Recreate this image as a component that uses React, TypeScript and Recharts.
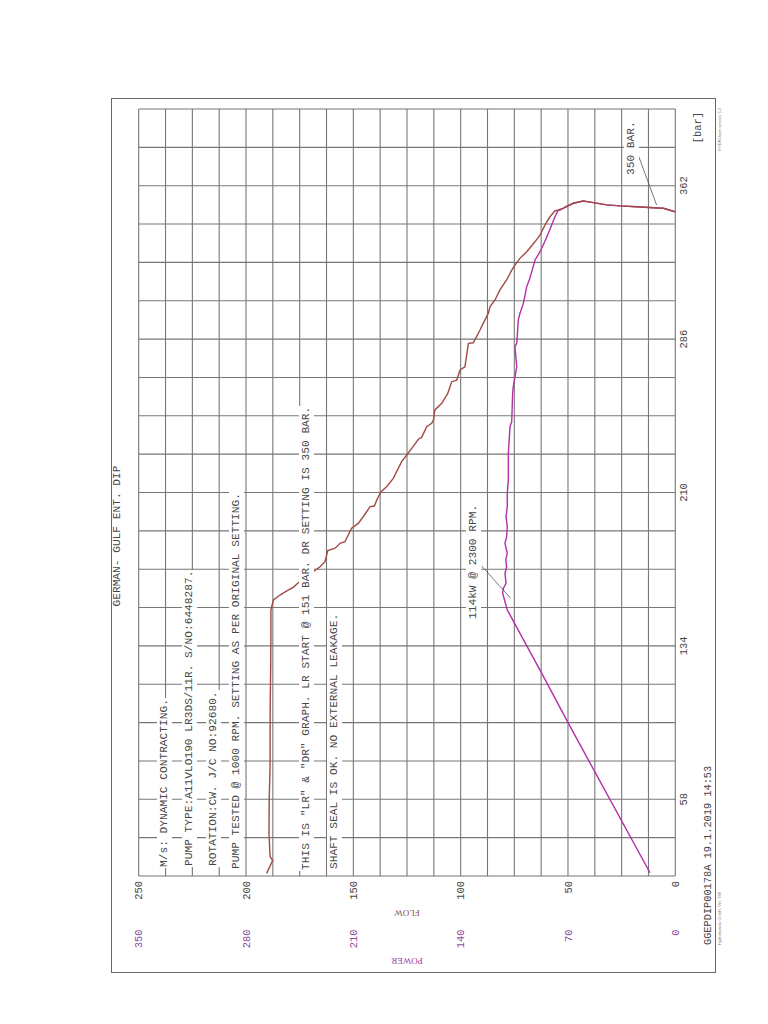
import React from "react";
import { LineChart, Line, XAxis, YAxis, CartesianGrid, ReferenceLine } from "recharts";

// pressure axis [bar]: grid every 19 bar, labels every 4th line
const PRESSURE_GRID = [20, 39, 58, 77, 96, 115, 134, 153, 172, 191, 210, 229, 248, 267, 286, 305, 324, 343, 362, 381, 400];
const PRESSURE_LABELS = [58, 134, 210, 286, 362];

// flow axis (left, inner) and power axis (left, outer)
const FLOW_GRID = [0, 12.5, 25, 37.5, 50, 62.5, 75, 87.5, 100, 112.5, 125, 137.5, 150, 162.5, 175, 187.5, 200, 212.5, 225, 237.5, 250];
const FLOW_LABELS = [0, 50, 100, 150, 200, 250];
const POWER_LABELS = [0, 70, 140, 210, 280, 350];

// flow curve
const FLOW_BAR = [21.3, 27.6, 29.6, 41.3, 57.7, 74.2, 90.8, 107.2, 123.7, 140.4, 151.8, 156.7, 159.2, 161.3, 163.0, 165.3, 170.8, 173.2, 175.7, 181.2, 182.4, 184.8, 185.6, 192.3, 194.7, 198.0, 203.0, 203.3, 206.3, 210.4, 212.9, 217.0, 225.3, 228.6, 231.9, 236.4, 237.3, 242.6, 244.3, 245.9, 250.9, 254.2, 259.1, 264.9, 265.7, 270.7, 272.3, 283.9, 284.2, 290.5, 293.8, 298.8, 302.1, 305.4, 310.4, 315.3, 320.2, 322.7, 326.0, 329.3, 334.2, 337.6, 342.6, 346.6, 349.6, 349.9, 351.9, 353.3, 354.4, 353.6, 352.5, 352.0, 351.6, 351.1, 350.8, 349.1];
const FLOW_LPM = [190.4, 187.6, 188.8, 189.3, 189.2, 188.8, 188.8, 188.7, 188.5, 188.4, 188.4, 187.3, 184.2, 181.0, 178.0, 175.6, 168.7, 165.5, 163.2, 161.9, 158.5, 156.2, 153.9, 150.8, 147.7, 145.4, 142.2, 140.2, 139.1, 137.1, 134.5, 131.4, 127.5, 125.1, 122.8, 119.7, 118.2, 115.8, 113.5, 112.7, 112.0, 108.8, 106.0, 104.2, 101.8, 100.3, 98.0, 96.4, 94.1, 91.0, 89.5, 87.1, 86.3, 84.0, 81.7, 78.6, 76.2, 74.7, 72.4, 69.2, 65.4, 63.0, 60.7, 58.4, 56.0, 53.7, 50.6, 47.5, 42.9, 38.2, 32.0, 25.8, 18.0, 10.2, 5.6, 0.1];

// power curve
const POWER_BAR = [21.6, 95.7, 120.4, 151.8, 160.1, 162.5, 165.0, 170.0, 173.2, 176.6, 179.9, 184.8, 188.1, 193.1, 198.0, 203.0, 209.6, 216.2, 229.4, 242.6, 245.1, 259.1, 262.4, 272.3, 282.2, 283.9, 295.5, 298.8, 303.7, 312.0, 316.3, 325.2, 327.7, 331.0, 334.6, 338.4, 342.6, 346.6, 350.0, 350.8, 353.3, 354.4, 353.6, 352.5, 352.0, 351.6, 351.1, 350.8, 349.1];
const POWER_KW = [16.5, 69.8, 87.1, 109.6, 112.6, 112.2, 110.4, 111.1, 110.0, 110.6, 109.6, 111.1, 110.0, 109.6, 110.4, 109.6, 109.6, 108.9, 108.9, 107.8, 106.7, 106.1, 105.7, 103.4, 104.6, 103.4, 102.4, 101.3, 99.1, 96.9, 94.8, 91.5, 89.4, 87.1, 85.0, 82.8, 80.6, 78.5, 76.3, 73.1, 66.5, 60.0, 53.5, 44.7, 36.1, 25.2, 14.3, 7.8, 0.2];

const NOTES = [
  "M/s: DYNAMIC CONTRACTING.",
  "PUMP TYPE:A11VLO190 LR3DS/11R. S/NO:6448287.",
  "ROTATION:CW. J/C NO:92680.",
  "PUMP TESTED @ 1000 RPM. SETTING AS PER ORIGINAL SETTING.",
  'THIS IS "LR" & "DR" GRAPH. LR START @ 151 BAR. DR SETTING IS 350 BAR.',
  "SHAFT SEAL IS OK. NO EXTERNAL LEAKAGE.",
];

const flowData = FLOW_BAR.map((p, i) => ({ p, q: FLOW_LPM[i] }));
const powerData = POWER_BAR.map((p, i) => ({ p, kw: POWER_KW[i] }));

const MONO = '"Liberation Mono", "DejaVu Sans Mono", monospace';
const INK = "#474747";
const GRID = "#777";
const FLOW_COLOR = "#a24a44";
const POWER_COLOR = "#b22fa8";

// the sheet is drawn upright (1024 x 768) and then turned a quarter left
const W = 1024;
const H = 768;

// note placement in the upright sheet: left edge and vertical centre
const NOTE_POS = [
  [156, 164],
  [157, 189],
  [157, 213.3],
  [154, 236.7],
  [153, 306.7],
  [154, 334.3],
];

function Note({ u, v, text, size = 11.2 }: { u: number; v: number; text: string; size?: number }) {
  return (
    <div
      style={{
        position: "absolute",
        left: u,
        top: v - 7.5,
        height: 15,
        lineHeight: "15px",
        fontFamily: MONO,
        fontSize: size,
        color: INK,
        background: "#fff",
        padding: "0 1px",
        whiteSpace: "pre",
      }}
    >
      {text}
    </div>
  );
}

function AxisTitle({ u, v, text, color }: { u: number; v: number; text: string; color: string }) {
  return (
    <div
      style={{
        position: "absolute",
        left: u - 30,
        top: v - 6,
        width: 60,
        height: 12,
        lineHeight: "12px",
        textAlign: "center",
        fontFamily: '"Liberation Serif", serif',
        fontSize: 9,
        color,
        transform: "rotate(-90deg)",
      }}
    >
      {text}
    </div>
  );
}

export default function App() {
  const tickStyle = { fontSize: 10.4, fill: INK, fontFamily: MONO };
  return (
    <div style={{ position: "absolute", left: 0, top: 0, width: 768, height: 1024, background: "#fff", overflow: "hidden" }}>
      <div
        style={{
          position: "absolute",
          left: 0,
          top: 0,
          width: W,
          height: H,
          transformOrigin: "0 0",
          transform: `translate(0px, ${W}px) rotate(-90deg)`,
        }}
      >
        {/* sheet frame */}
        <div style={{ position: "absolute", left: 51, top: 110.5, width: 873, height: 603, border: "1px solid #666" }} />

        <div style={{ position: "absolute", left: 0, top: 0 }}>
          <LineChart width={W} height={H} margin={{ top: 138.7, right: 109, bottom: 62.7, left: 52 }}>
            <CartesianGrid yAxisId="flow" stroke={GRID} strokeWidth={1.1} />
            <XAxis
              type="number"
              dataKey="p"
              domain={[20, 400]}
              ticks={PRESSURE_GRID}
              interval={0}
              allowDataOverflow
              tickFormatter={(v) => (PRESSURE_LABELS.includes(v) ? String(v) : "")}
              tickSize={0}
              tickMargin={4}
              axisLine={false}
              height={30}
              tick={tickStyle}
            />
            <YAxis
              yAxisId="flow"
              type="number"
              domain={[0, 250]}
              ticks={FLOW_GRID}
              interval={0}
              tickFormatter={(v) => (FLOW_LABELS.includes(v) ? String(v) : "")}
              tickSize={0}
              tickMargin={5}
              axisLine={false}
              width={48}
              tick={tickStyle}
            />
            <YAxis
              yAxisId="power"
              type="number"
              domain={[0, 350]}
              ticks={POWER_LABELS}
              interval={0}
              tickSize={0}
              tickMargin={5.5}
              axisLine={false}
              width={48}
              tick={{ ...tickStyle, fill: "#8d4c9c" }}
            />
            <Line
              yAxisId="power"
              data={powerData}
              dataKey="kw"
              type="linear"
              stroke={POWER_COLOR}
              strokeWidth={1.4}
              dot={false}
              isAnimationActive={false}
            />
            <Line
              yAxisId="flow"
              data={flowData}
              dataKey="q"
              type="linear"
              stroke={FLOW_COLOR}
              strokeWidth={1.4}
              dot={false}
              isAnimationActive={false}
            />
            <ReferenceLine
              yAxisId="power"
              segment={[{ x: 173.6, y: 126.3 }, { x: 157.6, y: 107.4 }]}
              stroke="#555"
              strokeWidth={0.8}
            />
            <ReferenceLine
              yAxisId="flow"
              segment={[{ x: 381, y: 18.6 }, { x: 352.4, y: 8.7 }]}
              stroke="#555"
              strokeWidth={0.8}
            />
          </LineChart>
        </div>

        {NOTES.map((t, i) => (
          <Note key={i} u={NOTE_POS[i][0]} v={NOTE_POS[i][1]} text={t} />
        ))}
        <Note u={404} v={473.3} text="114kW @ 2300 RPM." />
        <Note u={848} v={631} text="350 BAR." />

        {/* title */}
        <div
          style={{
            position: "absolute",
            left: 288,
            top: 110,
            width: 400,
            textAlign: "center",
            lineHeight: "14px",
            fontFamily: MONO,
            fontSize: 11.2,
            color: INK,
          }}
        >
          GERMAN- GULF ENT. DIP
        </div>

        <div style={{ position: "absolute", left: 862, top: 691, width: 50, textAlign: "right", lineHeight: "14px", fontFamily: MONO, fontSize: 10.4, color: INK }}>
          [bar]
        </div>

        <AxisTitle u={110.7} v={407} text="FLOW" color="#8a4f4f" />
        <AxisTitle u={63} v={406.7} text="POWER" color="#9a42a6" />

        <div style={{ position: "absolute", left: 79, top: 701, lineHeight: "14px", fontFamily: MONO, fontSize: 10.3, color: INK, whiteSpace: "pre" }}>
          GGEPDIP00178A 19.1.2019 14:53
        </div>
        <div style={{ position: "absolute", left: 79, top: 716.5, lineHeight: "5px", fontFamily: "Arial, sans-serif", fontSize: 4, color: "#777", whiteSpace: "pre" }}>
          Hydrotechnik GmbH, Ver. 788
        </div>
        <div style={{ position: "absolute", left: 816, top: 716.5, width: 100, textAlign: "right", lineHeight: "5px", fontFamily: "Arial, sans-serif", fontSize: 4, color: "#777", whiteSpace: "pre" }}>
          HYDROcom version 5.3
        </div>
      </div>
    </div>
  );
}
